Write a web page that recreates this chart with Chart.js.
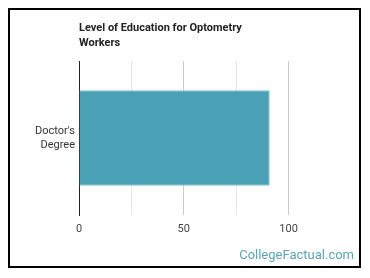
<!DOCTYPE html>
<html>
<head>
<meta charset="utf-8">
<script src="https://cdn.jsdelivr.net/npm/chart.js@4/dist/chart.umd.min.js"></script>
<style>
  html, body { margin: 0; padding: 0; background: #fff; }
  canvas { display: block; }
</style>
</head>
<body>
<canvas id="c" width="370" height="278"></canvas>
<script>
const titleLines = ["Level of Education for Optometry", "Workers"];
const categories = [["Doctor's", "Degree"]];
const values = [91];
const tickLabels = [0, 50, 100];
const watermark = "CollegeFactual.com";

const FONT = "Roboto, 'Noto Sans', sans-serif";

const decor = {
  id: 'decor',
  beforeDraw(chart) {
    const ctx = chart.ctx;
    ctx.save();
    ctx.fillStyle = '#fff';
    ctx.fillRect(0, 0, chart.width, chart.height);
    ctx.strokeStyle = '#000';
    ctx.lineWidth = 2;
    ctx.strokeRect(9, 9, 351, 258);
    ctx.restore();
  },
  afterDraw(chart) {
    const ctx = chart.ctx;
    const a = chart.chartArea;
    ctx.save();
    ctx.fillStyle = '#222';
    ctx.font = "bold 11px " + FONT;
    ctx.textAlign = 'left';
    ctx.textBaseline = 'middle';
    titleLines.forEach((t, i) => ctx.fillText(t, a.left, 28 + i * 15));
    ctx.fillStyle = '#5ba3b6';
    ctx.font = "13px " + FONT;
    ctx.textAlign = 'right';
    ctx.fillText(watermark, 354, 256);
    ctx.restore();
  }
};

new Chart(document.getElementById('c'), {
  type: 'bar',
  data: {
    labels: categories,
    datasets: [{
      data: values,
      backgroundColor: '#4aa0b4',
      borderColor: '#7fbfcd',
      borderWidth: 1,
      borderSkipped: 'left',
      barPercentage: 0.62,
      categoryPercentage: 1
    }]
  },
  options: {
    indexAxis: 'y',
    responsive: false,
    animation: false,
    layout: { padding: { left: 0, right: 29, top: 61, bottom: 33 } },
    plugins: { legend: { display: false }, tooltip: { enabled: false }, title: { display: false } },
    scales: {
      x: {
        min: 0, max: 125,
        afterFit(s) { s.height = 30; },
        border: { display: false },
        grid: {
          drawTicks: false,
          color(c) {
            const v = c.tick ? c.tick.value : null;
            if (v === 0 || v === 125) return 'rgba(0,0,0,0)';
            return tickLabels.includes(v) ? '#cccccc' : '#e6e6e6';
          }
        },
        ticks: {
          stepSize: 25,
          padding: 8,
          color: '#444',
          font: { family: FONT, size: 11 },
          callback(v) { return tickLabels.includes(v) ? String(v) : ''; }
        }
      },
      y: {
        afterFit(s) { s.width = 79; },
        border: { display: true, color: '#222', width: 1 },
        grid: { display: false, drawTicks: false },
        ticks: {
          padding: 4,
          color: '#333',
          font: { family: FONT, size: 11, lineHeight: 1.27 }
        }
      }
    }
  },
  plugins: [decor]
});
</script>
</body>
</html>
